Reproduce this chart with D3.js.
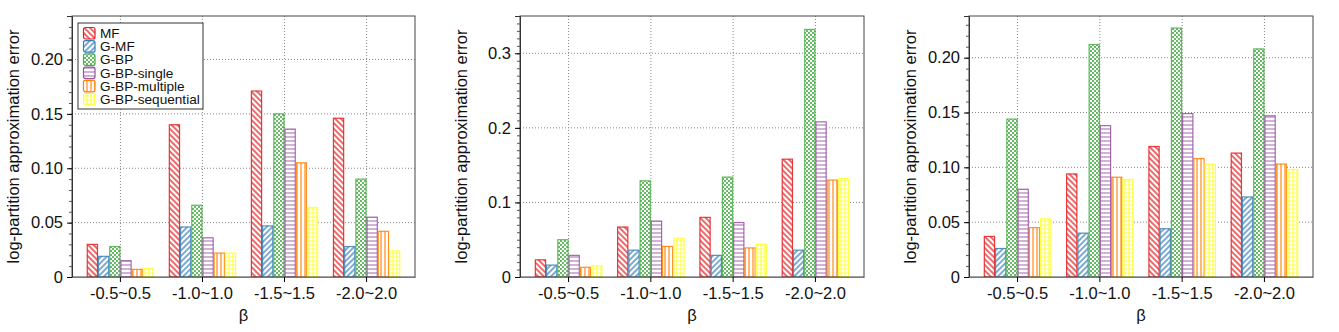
<!DOCTYPE html>
<html>
<head>
<meta charset="utf-8">
<script src="https://cdn.jsdelivr.net/npm/d3@7"></script>
<style>
    body { margin: 0; background: #fff; }
    svg text { font-family: "Liberation Sans", Arial, sans-serif; fill: #111; }
</style>
</head>
<body>
<svg id="chart" width="1339" height="332"></svg>
<script>
// Categories (beta ranges) and method names
const beta_ranges = ["-0.5~0.5", "-1.0~1.0", "-1.5~1.5", "-2.0~2.0"];
const methods = ["MF", "G-MF", "G-BP", "G-BP-single", "G-BP-multiple", "G-BP-sequential"];
const method_colors = ["#e41a1c", "#377eb8", "#4daf4a", "#984ea3", "#ff7f00", "#ffff33"];

// Panel 1 values, one array per method (order follows beta_ranges)
const p1_mf         = [0.030, 0.140, 0.171, 0.146];
const p1_gmf        = [0.019, 0.046, 0.047, 0.028];
const p1_gbp        = [0.028, 0.066, 0.150, 0.090];
const p1_single     = [0.015, 0.036, 0.136, 0.055];
const p1_multiple   = [0.007, 0.022, 0.105, 0.042];
const p1_sequential = [0.008, 0.022, 0.064, 0.024];

// Panel 2 values
const p2_mf         = [0.023, 0.067, 0.080, 0.158];
const p2_gmf        = [0.016, 0.036, 0.029, 0.036];
const p2_gbp        = [0.050, 0.129, 0.134, 0.332];
const p2_single     = [0.029, 0.075, 0.073, 0.208];
const p2_multiple   = [0.013, 0.041, 0.039, 0.130];
const p2_sequential = [0.015, 0.052, 0.044, 0.132];

// Panel 3 values
const p3_mf         = [0.037, 0.094, 0.119, 0.113];
const p3_gmf        = [0.026, 0.040, 0.044, 0.073];
const p3_gbp        = [0.144, 0.212, 0.227, 0.208];
const p3_single     = [0.080, 0.138, 0.149, 0.147];
const p3_multiple   = [0.045, 0.091, 0.108, 0.103];
const p3_sequential = [0.053, 0.089, 0.103, 0.098];

// Axis tick values for each panel
const p1_ticks = [0, 0.05, 0.10, 0.15, 0.20];
const p2_ticks = [0, 0.1, 0.2, 0.3];
const p3_ticks = [0, 0.05, 0.10, 0.15, 0.20];

const panels = [
    { left: 72, right: 415, ymax: 0.24, ticks: p1_ticks, fmt: d3.format(".2f"), label_x: 19, legend: true,
      series: [p1_mf, p1_gmf, p1_gbp, p1_single, p1_multiple, p1_sequential] },
    { left: 520, right: 864, ymax: 0.35, ticks: p2_ticks, fmt: d3.format(".1f"), label_x: 467, legend: false,
      series: [p2_mf, p2_gmf, p2_gbp, p2_single, p2_multiple, p2_sequential] },
    { left: 969, right: 1313, ymax: 0.238, ticks: p3_ticks, fmt: d3.format(".2f"), label_x: 916, legend: false,
      series: [p3_mf, p3_gmf, p3_gbp, p3_single, p3_multiple, p3_sequential] }
];
const plot_top = 16, plot_bottom = 277;

const svg = d3.select("#chart");

// Hatch patterns, one per method
const defs = svg.append("defs");
function make_pattern(id, color, draw, rotate) {
    const p = defs.append("pattern")
        .attr("id", id)
        .attr("patternUnits", "userSpaceOnUse")
        .attr("width", 4).attr("height", 4);
    if (rotate) p.attr("patternTransform", `rotate(${rotate})`);
    p.append("rect").attr("width", 4).attr("height", 4).attr("fill", "#fff");
    draw(p, color);
}
const vline = (p, c) => p.append("line").attr("x1", 1).attr("x2", 1).attr("y1", 0).attr("y2", 4)
    .attr("stroke", c).attr("stroke-width", 1.3);
const hline = (p, c) => p.append("line").attr("x1", 0).attr("x2", 4).attr("y1", 1).attr("y2", 1)
    .attr("stroke", c).attr("stroke-width", 1.1).attr("stroke-opacity", 0.8);
make_pattern("pat0", method_colors[0], vline, -45);
make_pattern("pat1", method_colors[1], vline, 45);
make_pattern("pat2", method_colors[2], (p, c) => {
    p.append("rect").attr("x", 0).attr("y", 0).attr("width", 2).attr("height", 2).attr("fill", c).attr("opacity", 0.85);
    p.append("rect").attr("x", 2).attr("y", 2).attr("width", 2).attr("height", 2).attr("fill", c).attr("opacity", 0.85);
});
make_pattern("pat3", method_colors[3], hline);
make_pattern("pat4", method_colors[4], (p, c) => vline(p, c).attr("stroke-width", 1.1));
make_pattern("pat5", method_colors[5], (p, c) => { hline(p, c); vline(p, c).attr("stroke-width", 1.1); });

panels.forEach(function (panel) {
    const g = svg.append("g");

    const x_scale = d3.scaleBand()
        .domain(beta_ranges)
        .range([panel.left, panel.right])
        .paddingInner(0)
        .paddingOuter(0.09);
    const inner_scale = d3.scaleBand()
        .domain(d3.range(methods.length))
        .range([0, x_scale.bandwidth() * 0.82]);
    const group_offset = x_scale.bandwidth() * 0.09;
    const y_scale = d3.scaleLinear()
        .domain([0, panel.ymax])
        .range([plot_bottom, plot_top]);

    // Dotted grid lines
    g.append("g").selectAll("line")
        .data(panel.ticks.filter(d => d > 0))
        .join("line")
        .attr("x1", panel.left).attr("x2", panel.right)
        .attr("y1", d => y_scale(d)).attr("y2", d => y_scale(d))
        .attr("stroke", "#888").attr("stroke-dasharray", "1,2");
    g.append("g").selectAll("line")
        .data(beta_ranges)
        .join("line")
        .attr("x1", d => x_scale(d) + x_scale.bandwidth() / 2)
        .attr("x2", d => x_scale(d) + x_scale.bandwidth() / 2)
        .attr("y1", plot_top).attr("y2", plot_bottom)
        .attr("stroke", "#888").attr("stroke-dasharray", "1,2");

    // Bars
    panel.series.forEach(function (values, m) {
        g.append("g").selectAll("rect")
            .data(values.map((v, i) => ({ cat: beta_ranges[i], value: v })))
            .join("rect")
            .attr("x", d => x_scale(d.cat) + group_offset + inner_scale(m) + 0.5)
            .attr("y", d => y_scale(d.value))
            .attr("width", inner_scale.bandwidth() - 1)
            .attr("height", d => plot_bottom - y_scale(d.value))
            .attr("fill", `url(#pat${m})`)
            .attr("stroke", method_colors[m])
            .attr("stroke-opacity", 0.85)
            .attr("stroke-width", 1.2);
    });

    // Frame
    g.append("rect")
        .attr("x", panel.left).attr("y", plot_top)
        .attr("width", panel.right - panel.left).attr("height", plot_bottom - plot_top)
        .attr("fill", "none").attr("stroke", "#444").attr("stroke-width", 1);

    // Y axis with minor ticks
    const minor = d3.range(0, panel.ymax + 1e-9, 0.01);
    g.append("g")
        .attr("transform", `translate(${panel.left},0)`)
        .call(d3.axisLeft(y_scale).tickValues(minor).tickSize(3).tickFormat(""))
        .call(a => a.select(".domain").remove())
        .call(a => a.selectAll("line").attr("stroke", "#555"));
    g.append("g")
        .attr("transform", `translate(${panel.left},0)`)
        .call(d3.axisLeft(y_scale).tickValues(panel.ticks).tickSize(5).tickPadding(4)
            .tickFormat(d => d === 0 ? "0" : panel.fmt(d)))
        .call(a => a.select(".domain").attr("stroke", "#333"))
        .call(a => a.selectAll("text").style("font-size", "16.5px").attr("fill", "#111"));

    // X axis
    g.append("g")
        .attr("transform", `translate(0,${plot_bottom})`)
        .call(d3.axisBottom(x_scale).tickSize(5).tickPadding(5).tickSizeOuter(0))
        .call(a => a.select(".domain").attr("stroke", "#777"))
        .call(a => a.selectAll("text").style("font-size", "16.5px").attr("fill", "#111"));

    // Axis labels
    g.append("text")
        .attr("transform", `translate(${panel.label_x},${(plot_top + plot_bottom) / 2}) rotate(-90)`)
        .attr("text-anchor", "middle")
        .style("font-size", "16.5px")
        .text("log-partition approximation error");
    g.append("text")
        .attr("x", (panel.left + panel.right) / 2)
        .attr("y", 321)
        .attr("text-anchor", "middle")
        .style("font-size", "16.5px")
        .text("β");

    // Legend (first panel only)
    if (panel.legend) {
        const lg = g.append("g").attr("transform", "translate(78,23)");
        lg.append("rect").attr("width", 125).attr("height", 86)
            .attr("fill", "#fff").attr("stroke", "#333");
        methods.forEach(function (name, m) {
            lg.append("rect")
                .attr("x", 5.5).attr("y", 4.5 + m * 13.2)
                .attr("width", 11.5).attr("height", 11.5)
                .attr("rx", 2)
                .attr("fill", `url(#pat${m})`)
                .attr("stroke", method_colors[m]).attr("stroke-width", 1.2);
            lg.append("text")
                .attr("x", 22).attr("y", 15 + m * 13.2)
                .style("font-size", "13.6px")
                .text(name);
        });
    }
});
</script>
</body>
</html>
